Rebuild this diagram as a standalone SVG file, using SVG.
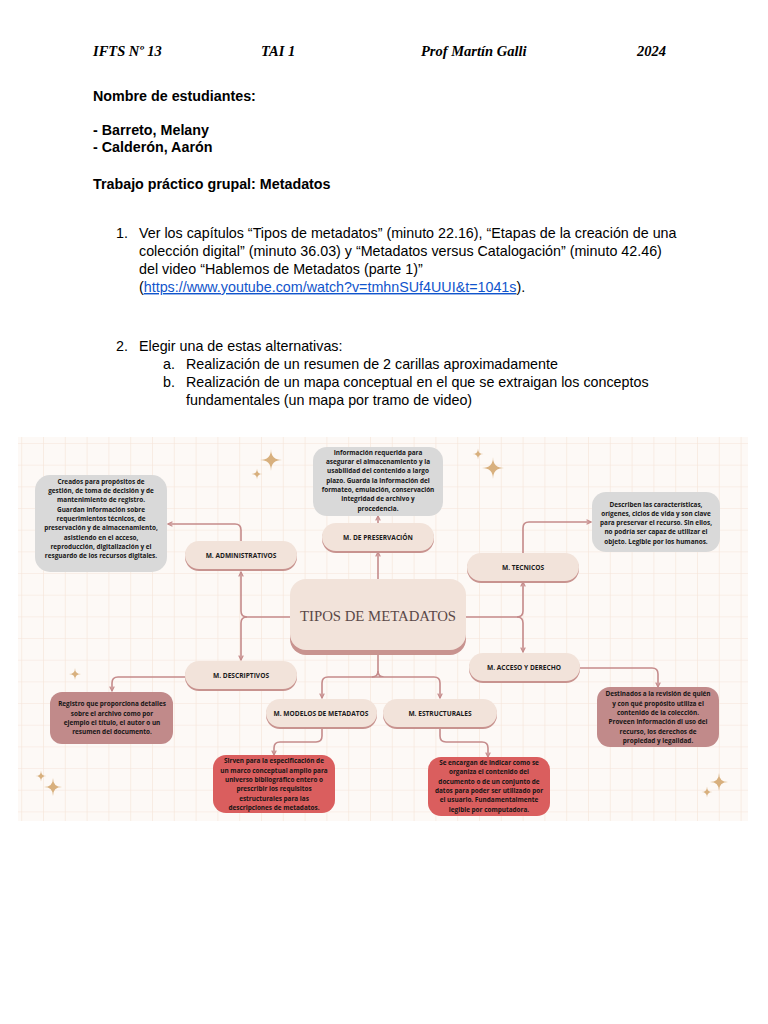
<svg xmlns="http://www.w3.org/2000/svg" width="768" height="1024" viewBox="0 0 768 1024">
<style>
.hdr{font-family:"Liberation Serif",serif;font-weight:bold;font-style:italic;font-size:14.5px;fill:#000}
.b{font-family:"Liberation Sans",Arial,sans-serif;font-weight:bold;font-size:14.3px;fill:#000}
.t{font-family:"Liberation Sans",Arial,sans-serif;font-size:14.3px;fill:#000}
.link{fill:#1155cc;text-decoration:underline}
.pill{fill:#f2e3da}
.pillsh{fill:#c8938f}
.lbl{font-family:"Open Sans","Noto Sans",sans-serif;font-weight:bold;font-size:6.6px;fill:#1a1a1a;text-anchor:middle}
.d{font-family:"Open Sans","Noto Sans",sans-serif;font-weight:bold;font-size:6.4px;fill:#161616;text-anchor:middle}
.gray{fill:#d9d9d9}
.rose{fill:#c18a8a}
.red{fill:#da5e5e}
.conn{fill:none;stroke:#c58b8b;stroke-width:1.6}
.star{fill:#d8b07e}
</style>
<defs>
<pattern id="grid" patternUnits="userSpaceOnUse" x="43" y="443" width="21.8" height="21.67">
<rect width="21.8" height="21.67" fill="#fdf9f6"/>
<path d="M0 0 H21.8 M0 0 V21.67" stroke="#f6e4d8" stroke-width="1.2" fill="none"/>
</pattern>
<marker id="arr" viewBox="0 0 8 8" refX="7" refY="4" markerWidth="6" markerHeight="6" orient="auto" markerUnits="userSpaceOnUse">
<path d="M1 1 L7 4 L1 7" fill="none" stroke="#c58b8b" stroke-width="1.6"/>
</marker>
<path id="spark" d="M0 -1 Q0 0 1 0 Q0 0 0 1 Q0 0 -1 0 Q0 0 0 -1 Z"/>
</defs>

<rect width="768" height="1024" fill="#ffffff"/>

<g id="header">
<text class="hdr" x="93" y="56">IFTS Nº 13</text>
<text class="hdr" x="261" y="56">TAI 1</text>
<text class="hdr" x="421" y="56">Prof Martín Galli</text>
<text class="hdr" x="666" y="56" text-anchor="end">2024</text>
<text class="b" x="93" y="101">Nombre de estudiantes:</text>
<text class="b" x="93" y="135">- Barreto, Melany</text>
<text class="b" x="93" y="152">- Calderón, Aarón</text>
<text class="b" x="93" y="189">Trabajo práctico grupal: Metadatos</text>
</g>

<g id="instructions">
<text class="t" x="116" y="238">1.</text>
<text class="t" x="139" y="238">Ver los capítulos “Tipos de metadatos” (minuto 22.16), “Etapas de la creación de una</text>
<text class="t" x="139" y="256">colección digital” (minuto 36.03) y “Metadatos versus Catalogación” (minuto 42.46)</text>
<text class="t" x="139" y="274">del video “Hablemos de Metadatos (parte 1)”</text>
<text class="t" x="139" y="292">(<tspan class="link">https://www.youtube.com/watch?v=tmhnSUf4UUI&amp;t=1041s</tspan>).</text>
<text class="t" x="116" y="351">2.</text>
<text class="t" x="139" y="351">Elegir una de estas alternativas:</text>
<text class="t" x="163" y="369">a.</text>
<text class="t" x="186" y="369">Realización de un resumen de 2 carillas aproximadamente</text>
<text class="t" x="163" y="387">b.</text>
<text class="t" x="186" y="387">Realización de un mapa conceptual en el que se extraigan los conceptos</text>
<text class="t" x="186" y="405">fundamentales (un mapa por tramo de video)</text>
</g>

<rect id="map-bg" x="18" y="437" width="730" height="384" fill="url(#grid)"/>

<g id="stars" class="star">
<use href="#spark" transform="translate(271 460) scale(11)"/>
<use href="#spark" transform="translate(257 474) scale(5.5)"/>
<use href="#spark" transform="translate(478 454) scale(5.5)"/>
<use href="#spark" transform="translate(493 468) scale(11)"/>
<use href="#spark" transform="translate(75 674) scale(6)"/>
<use href="#spark" transform="translate(41 776) scale(5.5)"/>
<use href="#spark" transform="translate(53 787) scale(9)"/>
<use href="#spark" transform="translate(719 782) scale(9)"/>
<use href="#spark" transform="translate(707 792) scale(5.5)"/>
</g>

<g id="connectors" class="conn">
<path d="M290 617 H247 Q241 617 241 611 V572" marker-end="url(#arr)"/>
<path d="M247 617 Q241 617 241 623 V660" marker-end="url(#arr)"/>
<path d="M378 579 V552" marker-end="url(#arr)"/>
<path d="M378 523 V516" marker-end="url(#arr)"/>
<path d="M241 541 V530 Q241 524 235 524 H168" marker-end="url(#arr)"/>
<path d="M466 617 H517 Q523 617 523 611 V582" marker-end="url(#arr)"/>
<path d="M517 617 Q523 617 523 623 V652" marker-end="url(#arr)"/>
<path d="M523 553 V528 Q523 522 529 522 H591" marker-end="url(#arr)"/>
<path d="M378 655 V671 Q378 677 372 677 H328 Q322 677 322 683 V698" marker-end="url(#arr)"/>
<path d="M372 677 H384 Q378 677 378 671 M378 671 Q378 677 384 677 H434 Q440 677 440 683 V698" marker-end="url(#arr)"/>
<path d="M185 677 H118 Q112 677 112 683 V691" marker-end="url(#arr)"/>
<path d="M580 668 H652 Q658 668 658 674 V687" marker-end="url(#arr)"/>
<path d="M322 728 V736 Q322 742 316 742 H280 Q274 742 274 748 V755" marker-end="url(#arr)"/>
<path d="M440 728 V736 Q440 742 446 742 H482 Q488 742 488 748 V757" marker-end="url(#arr)"/>
</g>

<g id="title">
<rect class="pillsh" x="290" y="584" width="176" height="71" rx="16"/>
<rect class="pill" x="290" y="579" width="176" height="71" rx="16"/>
<text x="378" y="621" text-anchor="middle" font-family="Liberation Serif,serif" font-size="14" fill="#5a4848" textLength="156" lengthAdjust="spacingAndGlyphs">TIPOS DE METADATOS</text>
</g>

<g id="n-admin">
<rect class="pillsh" x="185" y="543" width="112" height="28" rx="14"/>
<rect class="pill" x="185" y="541" width="112" height="28" rx="14"/>
<text class="lbl" x="241" y="557.5">M. ADMINISTRATIVOS</text>
</g>
<g id="n-pres">
<rect class="pillsh" x="322" y="525" width="112" height="28" rx="14"/>
<rect class="pill" x="322" y="523" width="112" height="28" rx="14"/>
<text class="lbl" x="378" y="539.5">M. DE PRESERVACIÓN</text>
</g>
<g id="n-tec">
<rect class="pillsh" x="467" y="555" width="112" height="28" rx="14"/>
<rect class="pill" x="467" y="553" width="112" height="28" rx="14"/>
<text class="lbl" x="523" y="569.5">M. TECNICOS</text>
</g>
<g id="n-desc">
<rect class="pillsh" x="185" y="663" width="112" height="28" rx="14"/>
<rect class="pill" x="185" y="661" width="112" height="28" rx="14"/>
<text class="lbl" x="241" y="677.5">M. DESCRIPTIVOS</text>
</g>
<g id="n-acceso">
<rect class="pillsh" x="469" y="655" width="111" height="28" rx="14"/>
<rect class="pill" x="469" y="653" width="111" height="28" rx="14"/>
<text class="lbl" x="524" y="669.5">M. ACCESO Y DERECHO</text>
</g>
<g id="n-modelos">
<rect class="pillsh" x="266" y="701" width="111" height="28" rx="14"/>
<rect class="pill" x="266" y="699" width="111" height="28" rx="14"/>
<text class="lbl" x="321" y="715.5">M. MODELOS DE METADATOS</text>
</g>
<g id="n-estruct">
<rect class="pillsh" x="383" y="701" width="114" height="28" rx="14"/>
<rect class="pill" x="383" y="699" width="114" height="28" rx="14"/>
<text class="lbl" x="440" y="715.5">M. ESTRUCTURALES</text>
</g>

<g id="d-admin">
<rect class="gray" x="35" y="475" width="132" height="97" rx="15"/>
<text class="d" x="101" y="483.5">Creados para propósitos de</text>
<text class="d" x="101" y="492.9">gestión, de toma de decisión y de</text>
<text class="d" x="101" y="502.2">mantenimiento de registro.</text>
<text class="d" x="101" y="511.6">Guardan información sobre</text>
<text class="d" x="101" y="520.9">requerimientos técnicos, de</text>
<text class="d" x="101" y="530.3">preservación y de almacenamiento,</text>
<text class="d" x="101" y="539.6">asistiendo en el acceso,</text>
<text class="d" x="101" y="549">reproducción, digitalización y el</text>
<text class="d" x="101" y="558.3">resguardo de los recursos digitales.</text>
</g>
<g id="d-pres">
<rect class="gray" x="313" y="447" width="130" height="69" rx="14"/>
<text class="d" x="378" y="454.6">Información requerida para</text>
<text class="d" x="378" y="463.9">asegurar el almacenamiento y la</text>
<text class="d" x="378" y="473.3">usabilidad del contenido a largo</text>
<text class="d" x="378" y="482.6">plazo. Guarda la información del</text>
<text class="d" x="378" y="491.9">formateo, emulación, conservación</text>
<text class="d" x="378" y="501.3">integridad de archivo y</text>
<text class="d" x="378" y="510.6">procedencia.</text>
</g>
<g id="d-tec">
<rect class="gray" x="592" y="492" width="128" height="60" rx="14"/>
<text class="d" x="656" y="506.5">Describen las características,</text>
<text class="d" x="656" y="515.8">orígenes, ciclos de vida y son clave</text>
<text class="d" x="656" y="525.1">para preservar el recurso. Sin ellos,</text>
<text class="d" x="656" y="534.4">no podría ser capaz de utilizar el</text>
<text class="d" x="656" y="543.7">objeto. Legible por los humanos.</text>
</g>
<g id="d-desc">
<rect class="rose" x="50" y="692" width="123" height="52" rx="12"/>
<text class="d" x="112" y="706.3">Registro que proporciona detalles</text>
<text class="d" x="112" y="715.6">sobre el archivo como por</text>
<text class="d" x="112" y="724.9">ejemplo el título, el autor o un</text>
<text class="d" x="112" y="734.2">resumen del documento.</text>
</g>
<g id="d-acceso">
<rect class="rose" x="597" y="687" width="122" height="60" rx="13"/>
<text class="d" x="658" y="696.3">Destinados a la revisión de quién</text>
<text class="d" x="658" y="705.6">y con qué propósito utiliza el</text>
<text class="d" x="658" y="714.9">contenido de la colección.</text>
<text class="d" x="658" y="724.2">Proveen información di uso del</text>
<text class="d" x="658" y="733.5">recurso, los derechos de</text>
<text class="d" x="658" y="742.8">propiedad y legalidad.</text>
</g>
<g id="d-modelos">
<rect class="red" x="213" y="755" width="122" height="58" rx="13"/>
<text class="d" x="274" y="763.3">Sirven para la especificación de</text>
<text class="d" x="274" y="772.6">un marco conceptual amplio para</text>
<text class="d" x="274" y="781.9">universo bibliográfico entero o</text>
<text class="d" x="274" y="791.2">prescribir los requisitos</text>
<text class="d" x="274" y="800.5">estructurales para las</text>
<text class="d" x="274" y="809.8">descripciones de metadatos.</text>
</g>
<g id="d-estruct">
<rect class="red" x="428" y="757" width="122" height="59" rx="13"/>
<text class="d" x="489" y="765">Se encargan de indicar como se</text>
<text class="d" x="489" y="774.3">organiza el contenido del</text>
<text class="d" x="489" y="783.6">documento o de un conjunto de</text>
<text class="d" x="489" y="792.9">datos para poder ser utilizado por</text>
<text class="d" x="489" y="802.2">el usuario. Fundamentalmente</text>
<text class="d" x="489" y="811.5">legible por computadora.</text>
</g>
</svg>
